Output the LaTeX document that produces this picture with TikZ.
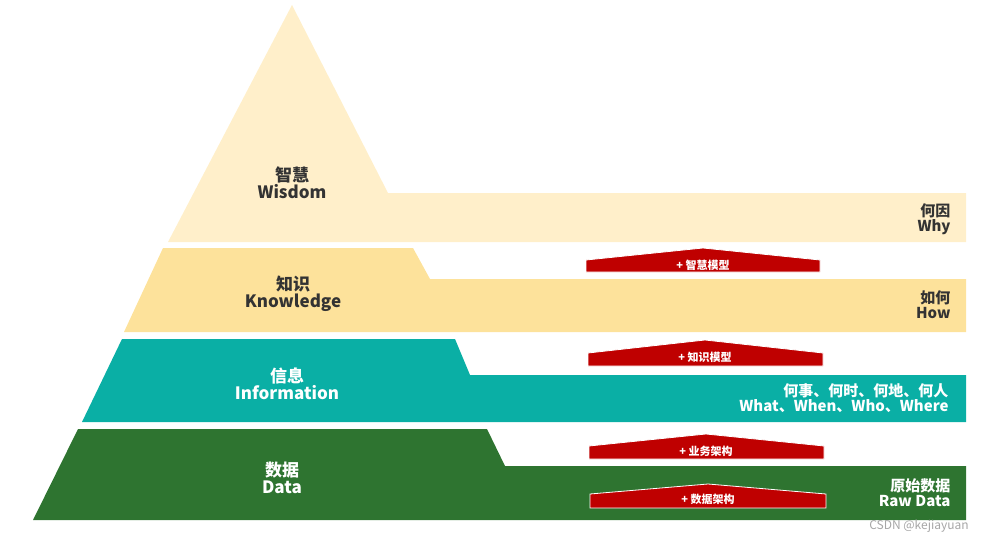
\documentclass[tikz,border=0pt]{standalone}
\usepackage{fontspec}
\setmainfont{Noto Sans CJK SC}
\begin{document}
\begin{tikzpicture}[x=1pt,y=-1pt,
  lbl/.style={font=\bfseries\fontsize{17}{20}\selectfont,align=center,text=#1},
  rl/.style={font=\bfseries\fontsize{15}{18}\selectfont,align=right,anchor=east,text=#1},
  tag/.style={font=\bfseries\fontsize{11}{12}\selectfont,text=white},
  arr/.style={fill=red!75!black,draw=white,line width=0.8pt}]
\useasboundingbox (0,0) rectangle (996,543);
\definecolor{cW}{HTML}{FFEFCA}\definecolor{cK}{HTML}{FDE29B}
\definecolor{cI}{HTML}{0AAFA5}\definecolor{cD}{HTML}{2E7430}
\fill[cW] (292,5) -- (388,193) -- (966,193) -- (966,242) -- (168,242) -- cycle;
\fill[cK] (163,248) -- (413,248) -- (430,279) -- (966,279) -- (966,332) -- (124,332) -- cycle;
\fill[cI] (122,339) -- (455,339) -- (470,375) -- (966,375) -- (966,422) -- (82,422) -- cycle;
\fill[cD] (78,429) -- (487,429) -- (505,466) -- (966,466) -- (966,520) -- (33,520) -- cycle;
\node[lbl=black!80] (w) at (292,183) {智慧\\[-3pt]Wisdom};
\node[lbl=black!80] (k) at (293,294) {知识\\[-3pt]Knowledge};
\node[lbl=white] (i) at (287,384) {信息\\[-3pt]Information};
\node[lbl=white] (d) at (282,478) {数据\\[-3pt]Data};
\node[rl=black!80] (rw) at (954,219) {何因\\[-3pt]Why};
\node[rl=black!80] (rk) at (954,305) {如何\\[-3pt]How};
\node[rl=white] (ri) at (952,398) {何事、何时、何地、何人\\[-3pt]What、When、Who、Where};
\node[rl=white] (rd) at (954,493) {原始数据\\[-3pt]Raw Data};
\fill[arr] (586,272) -- (586,260) -- (703,248) -- (820,260) -- (820,272) -- cycle;
\node[tag] (t1) at (703,265) {+ 智慧模型};
\fill[arr] (588,366) -- (588,353) -- (705,340) -- (823,353) -- (823,366) -- cycle;
\node[tag] (t2) at (705,357) {+ 知识模型};
\fill[arr] (589,459) -- (589,446) -- (706,434) -- (824,446) -- (824,459) -- cycle;
\node[tag] (t3) at (706,451) {+ 业务架构};
\fill[arr] (590,508) -- (590,494) -- (708,484) -- (826,494) -- (826,508) -- cycle;
\node[tag] (t4) at (708,499) {+ 数据架构};
\node[text=black!35,font=\fontsize{12}{14}\selectfont] (wm) at (919,526) {CSDN @kejiayuan};
\end{tikzpicture}
\end{document}
